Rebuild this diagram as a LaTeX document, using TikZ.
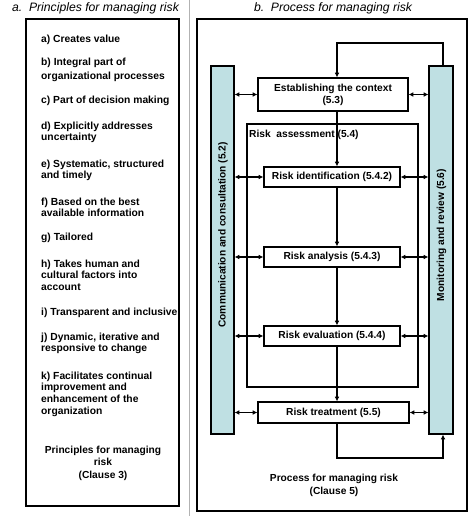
\documentclass[tikz,border=0pt]{standalone}
\usepackage{fontspec}
\setmainfont{Liberation Sans}
\usetikzlibrary{arrows.meta,calc}
\definecolor{barteal}{HTML}{BFE0E3}
\begin{document}
\begin{tikzpicture}[x=1pt,y=-1pt,
  item/.style={anchor=west,align=left,inner sep=0pt,font=\bfseries\fontsize{10.3}{11.6}\selectfont},
  boxnode/.style={draw,line width=1.1pt,inner sep=0pt,align=center,font=\bfseries\fontsize{10.2}{12}\selectfont},
  barnode/.style={draw,line width=1.1pt,fill=barteal,inner sep=0pt},
  bartext/.style={rotate=90,inner sep=0pt,font=\bfseries\fontsize{10.2}{12}\selectfont},
  frame/.style={draw,line width=2.2pt},
  titletext/.style={inner sep=0pt,font=\itshape\fontsize{12.2}{14}\selectfont},
  caption/.style={inner sep=0pt,align=center,font=\bfseries\fontsize{10.2}{12.5}\selectfont},
  arr/.style={line width=1.1pt,-{Latex[length=4.8pt,width=4.8pt]}},
  darr/.style={line width=1.1pt,{Latex[length=4.8pt,width=4.8pt]}-{Latex[length=4.8pt,width=4.8pt]}}
]
\useasboundingbox (0,0) rectangle (474,516);
\fill[white] (0,0) rectangle (474,516);

% divider
\draw[gray!60,line width=0.6pt] (189,0) -- (189,516);

% titles
\node[titletext] (ta) at (95.5,8) {a.\ \ Principles for managing risk};
\node[titletext] (tb) at (333,8) {b.\ \ Process for managing risk};

% left panel
\node[frame,minimum width=153pt,minimum height=487pt,inner sep=0pt] (lp) at (102.5,262.5) {};
\node[item] (pa) at (41,40) {a) Creates value};
\node[item,font=\bfseries\fontsize{10.3}{14}\selectfont] (pb) at (41,70) {b) Integral part of\\organizational processes};
\node[item] (pc) at (41,101) {c) Part of decision making};
\node[item] (pd) at (41,132.5) {d) Explicitly addresses\\uncertainty};
\node[item] (pe) at (41,170.5) {e) Systematic, structured\\and timely};
\node[item] (pf) at (41,207.5) {f) Based on the best\\available information};
\node[item] (pg) at (41,238) {g) Tailored};
\node[item] (ph) at (41,275) {h) Takes human and\\cultural factors into\\account};
\node[item] (pi) at (41,313) {i) Transparent and inclusive};
\node[item] (pj) at (41,343.5) {j) Dynamic, iterative and\\responsive to change};
\node[item] (pk) at (41,394) {k) Facilitates continual\\improvement and\\enhancement of the\\organization};
\node[caption] (pcap) at (103,463) {Principles for managing\\risk\\(Clause 3)};

% right panel
\node[frame,minimum width=270pt,minimum height=492pt,inner sep=0pt] (rp) at (332,265) {};

\node[barnode,minimum width=23pt,minimum height=368pt] (cc) at (222.5,250) {};
\node[barnode,minimum width=24pt,minimum height=368pt] (mr) at (441,250) {};
\node[bartext] (cct) at (223,235) {Communication and consultation (5.2)};
\node[bartext] (mrt) at (441.5,235) {Monitoring and review (5.6)};

\node[draw,line width=1.1pt,minimum width=171pt,minimum height=263pt,inner sep=0pt] (ra) at (332.5,255.5) {};
\node[anchor=west,inner sep=0pt,font=\bfseries\fontsize{10.2}{12}\selectfont] (ral) at (249,135) {Risk\ \ assessment (5.4)};

\node[boxnode,minimum width=150pt,minimum height=33pt] (ctx) at (333,94.5) {Establishing the context\\(5.3)};
\node[boxnode,minimum width=136pt,minimum height=20pt] (rid) at (332,177) {Risk identification (5.4.2)};
\node[boxnode,minimum width=136pt,minimum height=20pt] (ran) at (332,257) {Risk analysis (5.4.3)};
\node[boxnode,minimum width=136pt,minimum height=20pt] (rev) at (332,336) {Risk evaluation (5.4.4)};
\node[boxnode,minimum width=151pt,minimum height=21pt] (rtr) at (333.5,412.5) {Risk treatment (5.5)};

\node[caption] (rcap) at (334,485.5) {Process for managing risk\\(Clause 5)};

\coordinate (ax) at (337,0);
\coordinate (rx) at (443,0);
\coordinate (toploop) at (337,43);
\coordinate (botloop) at (443,458);

% main flow
\draw[arr] (ctx.south -| ax) -- (rid.north -| ax);
\draw[arr] (rid.south -| ax) -- (ran.north -| ax);
\draw[arr] (ran.south -| ax) -- (rev.north -| ax);
\draw[arr] (rev.south -| ax) -- (rtr.north -| ax);

% loops
\draw[arr] (mr.north -| rx) |- (toploop) -- (ctx.north -| ax);
\draw[arr] (rtr.south -| ax) |- (botloop) -- (mr.south -| rx);

% double arrows left
\draw[darr] (ctx.west -| cc.east) -- (ctx.west);
\draw[darr] (rid.west -| cc.east) -- (rid.west);
\draw[darr] (ran.west -| cc.east) -- (ran.west);
\draw[darr] (rev.west -| cc.east) -- (rev.west);
\draw[darr] (rtr.west -| cc.east) -- (rtr.west);
% double arrows right
\draw[darr] (ctx.east) -- (ctx.east -| mr.west);
\draw[darr] (rid.east) -- (rid.east -| mr.west);
\draw[darr] (ran.east) -- (ran.east -| mr.west);
\draw[darr] (rev.east) -- (rev.east -| mr.west);
\draw[darr] (rtr.east) -- (rtr.east -| mr.west);
\end{tikzpicture}
\end{document}
